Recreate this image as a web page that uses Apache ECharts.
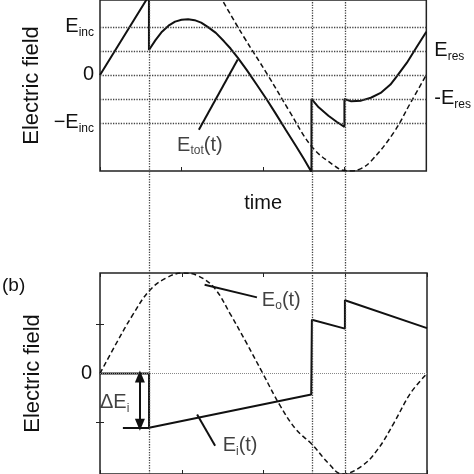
<!DOCTYPE html>
<html><head><meta charset="utf-8">
<script src="https://cdn.jsdelivr.net/npm/echarts@6/dist/echarts.min.js"></script>
<style>html,body{margin:0;background:#fff}#c{width:474px;height:474px}</style>
</head><body><div id="c"></div>
<script>
// panel (a): total field and shifted incident field
const totT = [0, 15, 15, 17, 19, 21, 23, 25, 27, 29, 31, 33, 35.5, 38, 40, 42.2, 45, 48, 51, 53.8, 57, 60, 62.5, 64.8,
  64.8, 67, 70, 72.5, 74.9, 74.9, 77, 80, 83, 86, 89, 91, 94, 97, 100];
const totV = [0, 3.3, 1.04, 1.45, 1.8, 2.05, 2.22, 2.3, 2.32, 2.28, 2.18, 2.0, 1.75, 1.4, 1.1, 0.72, 0.2, -0.4, -1.0, -1.6, -2.3, -2.95, -3.5, -4.04,
  -1, -1.35, -1.7, -1.95, -2.16, -1, -1.1, -1.07, -0.95, -0.75, -0.4, -0.05, 0.5, 1.15, 1.8];
const incT = [33, 38.8, 44, 51.4, 58, 65, 72, 74.5, 77, 80, 83, 90, 95, 100];
const incV = [4.2, 2.8, 1.6, 0, -1.5, -3, -3.8, -3.97, -4, -3.9, -3.6, -2.4, -1.2, 0];
const gridA = [2, 1, 0, -1, -2];
// panel (b): outer field E0 and inner field Ei
const e0T = [0, 5, 10, 15, 20, 25.4, 30, 35, 40, 45, 49.8, 55, 60, 64.8, 70, 74, 80, 85, 90, 95, 100];
const e0V = [0, 0.62, 1.2, 1.69, 1.95, 2.06, 2.0, 1.75, 1.2, 0.6, 0, -0.65, -1.15, -1.45, -1.85, -2.06, -1.9, -1.55, -1.0, -0.4, 0];
const eiT = [0, 15, 15, 64.6, 64.8, 74.9, 74.9, 100];
const eiV = [0, 0, -1.11, -0.43, 1.1, 0.92, 1.5, 0.93];
const switchTimes = [15, 65, 75];

const ff = 'Liberation Sans, Arial, sans-serif';
const rich = {b: {fontSize: 20, fontFamily: ff, color: '#111'}, s: {fontSize: 12, fontFamily: ff, color: '#111', padding: [11, 0, 0, 0]}};
const zip = (a, b) => a.map((t, i) => [t, b[i]]);
const dot = {type: 'dotted', color: '#444', width: 1.3};
const tick = {inside: true, length: 4, lineStyle: {color: '#222'}};

const chart = echarts.init(document.getElementById('c'));
chart.setOption({
  animation: false,
  grid: [
    {left: 100, right: 47, top: -8, height: 179, show: true, borderColor: '#222', borderWidth: 1.5},
    {left: 100, right: 47, top: 273, height: 206, show: true, borderColor: '#222', borderWidth: 1.5},
    {left: 100, right: 47, top: 0, bottom: 0}
  ],
  xAxis: [
    {gridIndex: 0, min: 0, max: 100, interval: 25, axisLine: {show: false, onZero: false}, axisLabel: {show: false},
     axisTick: tick, splitLine: {show: false},
     name: 'time', nameLocation: 'middle', nameGap: 22, nameTextStyle: {fontSize: 20, fontFamily: ff, color: '#111'}},
    {gridIndex: 1, min: 0, max: 100, interval: 25, axisLine: {show: false, onZero: false}, axisLabel: {show: false},
     axisTick: tick, splitLine: {show: false}},
    {gridIndex: 1, position: 'top', min: 0, max: 100, interval: 25, axisLine: {show: false, onZero: false}, axisLabel: {show: false},
     axisTick: tick, splitLine: {show: false}},
    {gridIndex: 2, min: 0, max: 100, show: false}
  ],
  yAxis: [
    {gridIndex: 0, min: -4, max: 3.12, axisLine: {show: false}, splitLine: {show: false}, axisTick: {show: false},
     axisLabel: {customValues: [2, 0, -2], margin: 6, rich,
       formatter: v => v === 2 ? '{b|E}{s|inc}' : v === -2 ? '{b|−E}{s|inc}' : '{b|0}'},
     name: 'Electric field', nameLocation: 'middle', nameGap: 56, nameRotate: 90,
     nameTextStyle: {fontSize: 22, fontFamily: ff, color: '#111'}},
    {gridIndex: 0, position: 'right', min: -4, max: 3.12, axisLine: {show: false}, splitLine: {show: false}, axisTick: {show: false},
     axisLabel: {customValues: [1, -1], margin: 8, rich,
       formatter: v => v === 1 ? '{b|E}{s|res}' : '{b|-E}{s|res}'}},
    {gridIndex: 1, min: -2.06, max: 2.06, axisLine: {show: false}, splitLine: {show: false},
     axisTick: Object.assign({customValues: [-1, 1]}, tick),
     axisLabel: {customValues: [0], margin: 8, rich, formatter: () => '{b|0}'},
     name: 'Electric field', nameLocation: 'middle', nameGap: 56, nameRotate: 90,
     nameTextStyle: {fontSize: 22, fontFamily: ff, color: '#111'}},
    {gridIndex: 1, position: 'right', min: -2.06, max: 2.06, axisLine: {show: false}, splitLine: {show: false},
     axisTick: Object.assign({customValues: [-1, 1]}, tick), axisLabel: {show: false}},
    {gridIndex: 2, min: 0, max: 1, show: false}
  ],
  series: [
    {type: 'line', xAxisIndex: 3, yAxisIndex: 4, data: [], silent: true,
     markLine: {symbol: 'none', label: {show: false}, lineStyle: dot, data: switchTimes.map(t => ({xAxis: t}))}},
    {type: 'line', xAxisIndex: 0, yAxisIndex: 0, data: zip(totT, totV), symbol: 'none', clip: true,
     lineStyle: {color: '#111', width: 2},
     markLine: {symbol: 'none', silent: true, label: {show: false}, lineStyle: dot,
       data: gridA.map(v => ({yAxis: v}))}},
    {type: 'line', xAxisIndex: 0, yAxisIndex: 0, data: zip(incT, incV), symbol: 'none', clip: true, smooth: 0.4,
     lineStyle: {color: '#111', width: 1.5, type: [5, 3]},
     markLine: {symbol: 'none', silent: true, label: {show: false}, lineStyle: {color: '#111', width: 2, type: 'solid'},
       data: [[{coord: [30.3, -2.28]}, {coord: [42.2, 0.64]}]]}},
    {type: 'scatter', xAxisIndex: 0, yAxisIndex: 0, symbolSize: 0, silent: true,
     label: {show: true, position: 'inside', rich, formatter: '{b|E}{s|tot}{b|(t)}'}, data: [[30.6, -2.92]]},
    {type: 'line', xAxisIndex: 1, yAxisIndex: 2, data: zip(e0T, e0V), symbol: 'none', clip: true, smooth: 0.4,
     lineStyle: {color: '#111', width: 1.5, type: [5, 3]},
     markLine: {symbol: 'none', silent: true, label: {show: false}, lineStyle: {color: '#888', width: 1, type: 'dotted'},
       data: [{yAxis: 0}]}},
    {type: 'line', xAxisIndex: 1, yAxisIndex: 2, data: zip(eiT, eiV), symbol: 'none', clip: true,
     lineStyle: {color: '#111', width: 2},
     markLine: {silent: true, label: {show: false}, lineStyle: {color: '#111', width: 2, type: 'solid'},
       symbol: 'none',
       data: [
         [{coord: [32, 1.82]}, {coord: [48, 1.56]}],
         [{coord: [29.7, -0.84]}, {coord: [35.2, -1.48]}],
         [{coord: [7, -1.11]}, {coord: [15, -1.11]}],
         [{coord: [12.2, -0.06], symbol: 'triangle', symbolSize: [10, 12]},
          {coord: [12.2, -1.05], symbol: 'triangle', symbolSize: [10, 12]}]
       ]}},
    {type: 'scatter', xAxisIndex: 1, yAxisIndex: 2, symbolSize: 0, silent: true,
     label: {show: true, position: 'right', distance: 0, rich, formatter: p => p.data[2]},
     data: [[49.5, 1.5, '{b|E}{s|o}{b|(t)}'], [37.5, -1.48, '{b|E}{s|i}{b|(t)}'], [0, -0.6, '{b|ΔE}{s|i}']]}
  ],
  graphic: [{type: 'text', left: 2, top: 276, style: {text: '(b)', fontSize: 19, fontFamily: ff, fill: '#111'}}]
});
</script></body></html>
